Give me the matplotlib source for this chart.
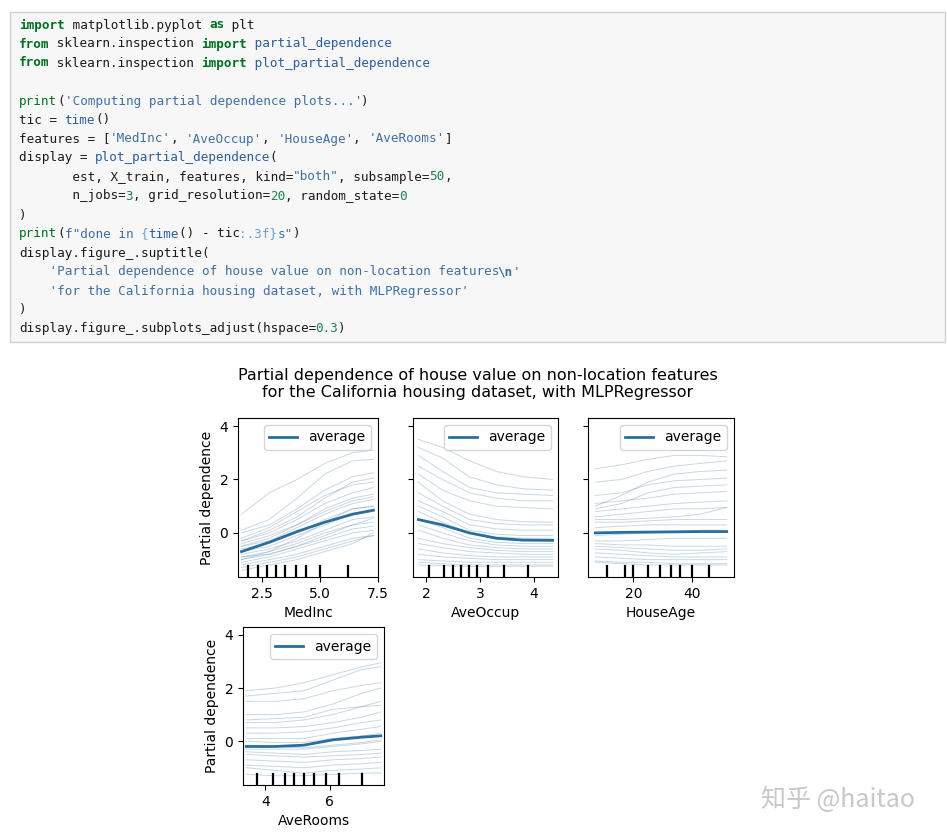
import matplotlib
matplotlib.use('Agg')
import matplotlib.pyplot as plt
from matplotlib.patches import Rectangle

W, H = 947, 840

# ---- data ----
medinc_x = [1.6, 2.8, 4.0, 5.2, 6.4, 7.3]
medinc_avg = [-0.7, -0.35, 0.05, 0.4, 0.7, 0.85]
medinc_ice = [
    [0.7, 1.5, 2.0, 2.6, 3.0, 3.1], [0.1, 0.5, 1.3, 2.2, 2.7, 2.75],
    [0.0, 0.3, 0.9, 1.6, 2.1, 2.25], [-0.2, 0.2, 0.8, 1.4, 1.8, 1.9],
    [-0.3, 0.0, 0.5, 1.1, 1.5, 1.7], [-0.4, -0.1, 0.3, 0.9, 1.3, 1.45],
    [-0.5, -0.3, 0.2, 0.7, 1.1, 1.25], [-0.6, -0.4, 0.0, 0.5, 0.9, 1.0],
    [-0.7, -0.5, -0.1, 0.3, 0.7, 0.8], [-0.8, -0.6, -0.3, 0.1, 0.5, 0.6],
    [-0.9, -0.7, -0.4, 0.0, 0.3, 0.4], [-1.0, -0.8, -0.5, -0.2, 0.15, 0.25],
    [-1.1, -0.9, -0.6, -0.3, 0.0, 0.1], [-1.2, -1.0, -0.8, -0.5, -0.2, -0.1],
    [-1.3, -1.1, -0.9, -0.6, -0.3, -0.1], [-1.4, -1.2, -1.0, -0.7, -0.4, 0.0],
    [-0.3, 0.1, 0.6, 1.3, 1.9, 2.05], [-0.5, -0.2, 0.3, 0.8, 1.2, 1.35],
    [-1.0, -0.7, -0.2, 0.4, 0.9, 1.0], [-0.9, -0.8, -0.5, -0.1, 0.3, 0.55],
]
medinc_deciles = [1.9, 2.3, 2.7, 3.1, 3.5, 3.95, 4.4, 5.0, 6.2]

aveoccup_x = [1.85, 2.3, 2.8, 3.3, 3.8, 4.35]
aveoccup_avg = [0.5, 0.3, 0.0, -0.2, -0.27, -0.28]
aveoccup_ice = [
    [3.5, 3.2, 2.7, 2.3, 2.1, 2.0], [3.2, 2.8, 2.1, 1.8, 1.65, 1.6],
    [2.9, 2.3, 1.7, 1.5, 1.45, 1.4], [2.5, 2.0, 1.5, 1.3, 1.2, 1.2],
    [2.2, 1.6, 1.2, 1.0, 0.95, 0.9], [1.9, 1.2, 0.7, 0.5, 0.42, 0.4],
    [1.5, 1.0, 0.5, 0.35, 0.3, 0.3], [1.2, 0.8, 0.3, 0.15, 0.1, 0.1],
    [1.0, 0.6, 0.1, -0.05, -0.1, -0.1], [0.8, 0.4, 0.0, -0.15, -0.2, -0.2],
    [0.5, 0.2, -0.2, -0.35, -0.4, -0.4], [0.3, 0.0, -0.3, -0.45, -0.5, -0.5],
    [0.1, -0.2, -0.45, -0.55, -0.6, -0.6], [-0.2, -0.4, -0.55, -0.65, -0.7, -0.7],
    [-0.4, -0.55, -0.7, -0.75, -0.8, -0.8], [-0.6, -0.75, -0.85, -0.9, -0.9, -0.9],
    [-0.8, -0.9, -0.95, -1.0, -1.0, -1.0], [-1.0, -1.05, -1.1, -1.1, -1.1, -1.1],
    [-1.1, -1.15, -1.2, -1.2, -1.2, -1.2], [-1.2, -1.22, -1.25, -1.25, -1.25, -1.25],
]
aveoccup_deciles = [2.05, 2.33, 2.5, 2.65, 2.8, 2.95, 3.15, 3.45, 3.9]

houseage_x = [7, 16, 25, 34, 43, 52]
houseage_avg = [0.0, 0.02, 0.03, 0.04, 0.05, 0.05]
houseage_ice = [
    [2.4, 2.55, 2.75, 2.9, 2.9, 2.85], [1.9, 2.0, 2.3, 2.5, 2.6, 2.7],
    [1.0, 1.4, 1.9, 2.2, 2.3, 2.35], [1.4, 1.5, 1.8, 1.95, 2.0, 2.05],
    [0.9, 1.1, 1.5, 1.7, 1.75, 1.8], [1.1, 1.2, 1.3, 1.45, 1.5, 1.55],
    [0.8, 0.9, 1.0, 1.1, 1.15, 1.2], [0.5, 0.5, 0.55, 0.6, 0.7, 0.95],
    [0.4, 0.4, 0.45, 0.5, 0.5, 0.5], [0.2, 0.25, 0.3, 0.3, 0.3, 0.3],
    [-0.1, -0.05, 0.0, 0.05, 0.1, 0.1], [-0.3, -0.3, -0.25, -0.2, -0.2, -0.2],
    [-0.4, -0.45, -0.45, -0.5, -0.5, -0.5], [-0.5, -0.55, -0.6, -0.65, -0.65, -0.6],
    [-0.6, -0.65, -0.75, -0.8, -0.75, -0.7], [-0.75, -0.8, -0.85, -0.9, -0.9, -0.9],
    [-0.9, -0.95, -1.0, -1.0, -1.0, -1.0], [-1.05, -1.1, -1.1, -1.15, -1.15, -1.15],
    [-1.1, -1.15, -1.2, -1.2, -1.2, -1.2], [0.6, 0.7, 0.8, 0.9, 0.9, 0.95],
]
houseage_deciles = [11, 17, 20, 25, 29, 33, 36, 40, 46]

averooms_x = [3.4, 4.3, 5.2, 6.1, 7.0, 7.6]
averooms_avg = [-0.2, -0.2, -0.15, 0.05, 0.15, 0.2]
averooms_ice = [
    [1.9, 2.0, 2.2, 2.5, 2.8, 2.95], [1.7, 1.8, 1.9, 2.3, 2.7, 2.8],
    [1.5, 1.5, 1.6, 1.9, 2.1, 2.2], [1.0, 1.0, 1.1, 1.4, 1.8, 2.0],
    [0.7, 0.7, 0.8, 1.0, 1.3, 1.5], [0.5, 0.5, 0.55, 0.7, 0.9, 1.1],
    [0.3, 0.3, 0.35, 0.5, 0.7, 0.8], [0.1, 0.1, 0.1, 0.3, 0.45, 0.55],
    [0.0, -0.05, -0.05, 0.1, 0.2, 0.3], [-0.3, -0.3, -0.3, -0.2, -0.1, 0.0],
    [-0.4, -0.45, -0.5, -0.4, -0.35, -0.3], [-0.5, -0.55, -0.6, -0.55, -0.5, -0.45],
    [-0.7, -0.75, -0.8, -0.7, -0.65, -0.6], [-0.9, -0.95, -1.0, -0.9, -0.85, -0.8],
    [-1.0, -1.1, -1.2, -1.1, -1.05, -1.0], [-1.25, -1.3, -1.3, -1.25, -1.2, -1.2],
    [0.8, 0.85, 0.9, 1.2, 1.3, 1.35], [-0.15, -0.2, -0.25, -0.15, -0.05, 0.05],
]
averooms_deciles = [3.75, 4.25, 4.6, 4.9, 5.2, 5.5, 5.9, 6.3, 7.0]

features = ['MedInc', 'AveOccup', 'HouseAge', 'AveRooms']

code_lines = [
    [("import", "#007020", True), (" matplotlib.pyplot ", "#1a1a1a", False), ("as", "#007020", True), (" plt", "#1a1a1a", False)],
    [("from", "#007020", True), (" sklearn.inspection ", "#1a1a1a", False), ("import", "#007020", True), (" partial_dependence", "#2b5d9a", False)],
    [("from", "#007020", True), (" sklearn.inspection ", "#1a1a1a", False), ("import", "#007020", True), (" plot_partial_dependence", "#2b5d9a", False)],
    [],
    [("print", "#007020", False), ("(", "#1a1a1a", False), ("'Computing partial dependence plots...'", "#4070a0", False), (")", "#1a1a1a", False)],
    [("tic = ", "#1a1a1a", False), ("time", "#2b5d9a", False), ("()", "#1a1a1a", False)],
    [("features = [", "#1a1a1a", False), ("'MedInc'", "#4070a0", False), (", ", "#1a1a1a", False), ("'AveOccup'", "#4070a0", False),
     (", ", "#1a1a1a", False), ("'HouseAge'", "#4070a0", False), (", ", "#1a1a1a", False), ("'AveRooms'", "#4070a0", False), ("]", "#1a1a1a", False)],
    [("display = ", "#1a1a1a", False), ("plot_partial_dependence", "#2b5d9a", False), ("(", "#1a1a1a", False)],
    [("       est, X_train, features, kind=", "#1a1a1a", False), ('"both"', "#4070a0", False), (", subsample=", "#1a1a1a", False), ("50", "#208050", False), (",", "#1a1a1a", False)],
    [("       n_jobs=", "#1a1a1a", False), ("3", "#208050", False), (", grid_resolution=", "#1a1a1a", False), ("20", "#208050", False),
     (", random_state=", "#1a1a1a", False), ("0", "#208050", False)],
    [(")", "#1a1a1a", False)],
    [("print", "#007020", False), ("(", "#1a1a1a", False), ('f"done in ', "#4070a0", False), ("{", "#70a0d0", False), ("time", "#2b5d9a", False),
     ("() - tic", "#1a1a1a", False), (":.3f}", "#70a0d0", False), ('s"', "#4070a0", False), (")", "#1a1a1a", False)],
    [("display.figure_.suptitle(", "#1a1a1a", False)],
    [("    'Partial dependence of house value on non-location features", "#4070a0", False), ("\\n", "#4070a0", True), ("'", "#4070a0", False)],
    [("    'for the California housing dataset, with MLPRegressor'", "#4070a0", False)],
    [(")", "#1a1a1a", False)],
    [("display.figure_.subplots_adjust(hspace=", "#1a1a1a", False), ("0.3", "#208050", False), (")", "#1a1a1a", False)],
]

fig = plt.figure(figsize=(W / 100, H / 100), dpi=100)

# code cell box
fig.patches.append(Rectangle((10 / W, 1 - 342 / H), 935 / W, 330 / H, transform=fig.transFigure,
                             facecolor="#f7f7f7", edgecolor="#d0d0d0", linewidth=1))
char_w = 7.6
for i, toks in enumerate(code_lines):
    y = 25 + 19 * i
    col = 0
    for text, color, bold in toks:
        fig.text((19 + col * char_w) / W, 1 - y / H, text, family="DejaVu Sans Mono", fontsize=9.1,
                 color=color, weight="bold" if bold else "normal", va="center", ha="left")
        col += len(text)

fig.text(478 / W, 1 - 384 / H,
         "Partial dependence of house value on non-location features\n"
         "for the California housing dataset, with MLPRegressor",
         ha="center", va="center", fontsize=11.5, linespacing=1.15)

panels = [
    (features[0], medinc_x, medinc_ice, medinc_avg, medinc_deciles, (1.45, 7.45), [2.5, 5.0, 7.5], (238, 418, 140, 159), True),
    (features[1], aveoccup_x, aveoccup_ice, aveoccup_avg, aveoccup_deciles, (1.75, 4.45), [2, 3, 4], (413, 418, 145, 159), False),
    (features[2], houseage_x, houseage_ice, houseage_avg, houseage_deciles, (4.5, 54.5), [20, 40], (588, 418, 146, 159), False),
    (features[3], averooms_x, averooms_ice, averooms_avg, averooms_deciles, (3.3, 7.7), [4, 6], (243, 627, 141, 158), True),
]

for name, xs, ice, avg, dec, xlim, xt, (px, py, pw, ph), ylab in panels:
    ax = fig.add_axes([px / W, 1 - (py + ph) / H, pw / W, ph / H])
    for line in ice:
        ax.plot(xs, line, color="#4a7fa8", alpha=0.3, linewidth=0.7)
    ax.plot(xs, avg, color="#2a6e9e", linewidth=2, label="average")
    ax.set_ylim(-1.65, 4.3)
    ax.set_xlim(xlim)
    ax.set_yticks([0, 2, 4])
    ax.set_xticks(xt)
    ax.tick_params(labelsize=10)
    trans = ax.get_xaxis_transform()
    for d in dec:
        ax.plot([d, d], [0, 0.07], color="black", linewidth=1.6, transform=trans)
    ax.set_xlabel(name, fontsize=10)
    if ylab:
        ax.set_ylabel("Partial dependence", fontsize=10)
    else:
        ax.set_yticklabels([])
    ax.legend(loc="upper right", fontsize=10)

fig.text(838 / W, 1 - 800 / H, "知乎 @haitao", family=["Noto Sans CJK SC", "DejaVu Sans"],
         fontsize=18, color="#c8c8c8", ha="center", va="center")

fig.savefig("out.png", dpi=100, facecolor="white")
